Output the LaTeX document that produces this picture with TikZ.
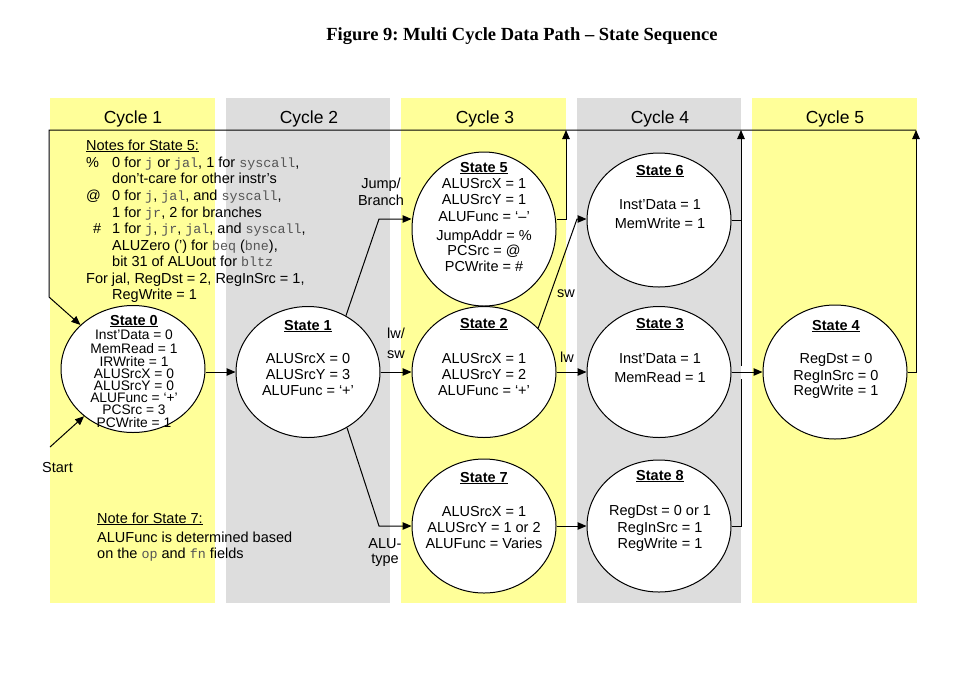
\documentclass[tikz,border=0pt]{standalone}
\usepackage{fontspec}
\setmainfont{Liberation Sans}
\newfontfamily\monof[Scale=0.92]{Liberation Mono}
\newfontfamily\titlef{Liberation Serif}
\usetikzlibrary{arrows.meta,shapes.geometric}
\definecolor{cyel}{HTML}{FFFF99}
\definecolor{cgray}{HTML}{DDDDDD}
\definecolor{monogray}{HTML}{555555}
\newcommand\mytt[1]{{\monof\color{monogray}#1}}
\frenchspacing
\begin{document}
\begin{tikzpicture}[x=1pt,y=-1pt,
 state/.style={ellipse, draw, fill=white, line width=1pt, minimum width=144pt, minimum height=131pt, inner sep=0pt},
 tx/.style={inner sep=0pt, anchor=base, font=\fontsize{14.5}{16}\selectfont},
 txs/.style={inner sep=0pt, anchor=base, font=\fontsize{13.8}{14}\selectfont},
 txl/.style={tx, anchor=base west},
 sttl/.style={inner sep=0pt, anchor=base, font=\fontsize{14.5}{16}\selectfont\bfseries},
 cyc/.style={inner sep=0pt, anchor=base, font=\fontsize{17.5}{20}\selectfont},
 wire/.style={line width=1pt},
 arr/.style={wire, -{Triangle[length=9pt,width=7.5pt]}}]
\useasboundingbox (0,0) rectangle (973,694);
\fill[white] (0,0) rectangle (973,694);
% bands
\fill[cyel] (50,98) rectangle (215,603);
\fill[cgray] (226,98) rectangle (390,603);
\fill[cyel] (401,98) rectangle (566,603);
\fill[cgray] (577,98) rectangle (741,603);
\fill[cyel] (752,98) rectangle (917,603);
% title
\node[inner sep=0pt, anchor=base, font=\titlef\bfseries\fontsize{18.5}{22}\selectfont] (title) at (522,40) {Figure 9: Multi Cycle Data Path – State Sequence};
% cycle labels
\node[cyc] (c1) at (133,123) {Cycle 1};
\node[cyc] (c2) at (309,123) {Cycle 2};
\node[cyc] (c3) at (485,123) {Cycle 3};
\node[cyc] (c4) at (660,123) {Cycle 4};
\node[cyc] (c5) at (835,123) {Cycle 5};
% states
\node[state, minimum height=127pt] (s0) at (133,369) {};
\node[state] (s1) at (308,372) {};
\node[state] (s2) at (484,372) {};
\node[state, minimum height=154pt] (s5) at (484,229) {};
\node[state, minimum height=134pt] (s7) at (484,526) {};
\node[state, minimum height=134pt] (s6) at (659,220) {};
\node[state] (s3) at (659,372) {};
\node[state, minimum height=132pt] (s8) at (659,526) {};
\node[state, minimum height=134pt] (s4) at (835,372) {};
% coordinates
\coordinate (j15) at (379,219);
\coordinate (j17) at (379,526);
\coordinate (j26) at (577,219);
\coordinate (up5a) at (566,219);
\coordinate (up5) at (566,130);
\coordinate (r6) at (741,220);
\coordinate (r8) at (741,526);
\coordinate (gapb) at (741,379);
\coordinate (gapt) at (741,366);
\coordinate (up4) at (741,130);
\coordinate (r4) at (916,372);
\coordinate (up45) at (916,130);
\coordinate (tl) at (49,130);
\coordinate (tld) at (49,297);
\coordinate (st) at (50,447);
% connectors
\draw[arr] (up45) -- (tl) -- (tld) -- (s0.140);
\draw[arr] (st) -- (s0.224);
\draw[arr] (s1.west -| s0.east) -- (s1.west);
\draw[arr] (s1.56) -- (j15) -- (j15 -| s5.west);
\draw[arr] (s1.east) -- (s2.west);
\draw[arr] (s1.-55) -- (j17) -- (j17 -| s7.west);
\draw[arr] (j15 -| s5.east) -- (up5a) -- (up5);
\draw[arr] (s2.39) -- (j26) -- (j26 -| s6.west);
\draw[arr] (s2.east) -- (s3.west);
\draw[arr] (s7.east) -- (s8.west);
\draw[wire] (s6.east) -- (r6);
\draw[wire] (s8.east) -- (r8) -- (gapb);
\draw[arr] (gapt) -- (up4);
\draw[arr] (s3.east) -- (s4.west);
\draw[arr] (s4.east) -- (r4) -- (up45);
% state 0 text
\node[sttl] (t0a) at (134,325) {\underline{State 0}};
\node[txs] (t0b) at (134,339) {Inst’Data = 0};
\node[txs] (t0c) at (134,353) {MemRead = 1};
\node[txs] (t0d) at (134,366) {IRWrite = 1};
\node[txs] (t0e) at (134,378) {ALUSrcX = 0};
\node[txs] (t0f) at (134,390) {ALUSrcY = 0};
\node[txs] (t0g) at (134,402) {ALUFunc = ‘+’};
\node[txs] (t0h) at (134,414) {PCSrc = 3};
\node[txs] (t0i) at (134,427) {PCWrite = 1};
% state 1
\node[sttl] (t1a) at (308,330) {\underline{State 1}};
\node[tx] (t1b) at (308,363) {ALUSrcX = 0};
\node[tx] (t1c) at (308,379) {ALUSrcY = 3};
\node[tx] (t1d) at (308,395) {ALUFunc = ‘+’};
% state 2
\node[sttl] (t2a) at (484,328) {\underline{State 2}};
\node[tx] (t2b) at (484,363) {ALUSrcX = 1};
\node[tx] (t2c) at (484,379) {ALUSrcY = 2};
\node[tx] (t2d) at (484,395) {ALUFunc = ‘+’};
% state 5
\node[sttl] (t5a) at (484,172) {\underline{State 5}};
\node[tx] (t5b) at (484,188) {ALUSrcX = 1};
\node[tx] (t5c) at (484,204) {ALUSrcY = 1};
\node[tx] (t5d) at (484,221) {ALUFunc = ‘–’};
\node[tx] (t5e) at (484,240) {JumpAddr = \%};
\node[tx] (t5f) at (484,255) {PCSrc = @};
\node[tx] (t5g) at (484,271) {PCWrite = \#};
% state 7
\node[sttl] (t7a) at (484,482) {\underline{State 7}};
\node[tx] (t7b) at (484,516) {ALUSrcX = 1};
\node[tx] (t7c) at (484,532) {ALUSrcY = 1 or 2};
\node[tx] (t7d) at (484,548) {ALUFunc = Varies};
% state 6
\node[sttl] (t6a) at (660,175) {\underline{State 6}};
\node[tx] (t6b) at (660,209) {Inst’Data = 1};
\node[tx] (t6c) at (660,228) {MemWrite = 1};
% state 3
\node[sttl] (t3a) at (660,328) {\underline{State 3}};
\node[tx] (t3b) at (660,363) {Inst’Data = 1};
\node[tx] (t3c) at (660,382) {MemRead = 1};
% state 8
\node[sttl] (t8a) at (660,480) {\underline{State 8}};
\node[tx] (t8b) at (660,515) {RegDst = 0 or 1};
\node[tx] (t8c) at (660,532) {RegInSrc = 1};
\node[tx] (t8d) at (660,548) {RegWrite = 1};
% state 4
\node[sttl] (t4a) at (836,330) {\underline{State 4}};
\node[tx] (t4b) at (836,363) {RegDst = 0};
\node[tx] (t4c) at (836,380) {RegInSrc = 0};
\node[tx] (t4d) at (836,395) {RegWrite = 1};
% connector labels
\node[tx] (lj1) at (381,188) {Jump/};
\node[tx] (lj2) at (381,205) {Branch};
\node[txl] (llw1) at (387,338) {lw/};
\node[txl] (llw2) at (387,358) {sw};
\node[txl] (llw) at (560,362) {lw};
\node[txl] (lsw) at (557,297) {sw};
\node[tx] (lalu1) at (385,548) {ALU-};
\node[tx] (lalu2) at (385,563) {type};
\node[txl] (lstart) at (42,472) {Start};
% notes for state 5
\node[txl] (n1) at (86,150) {\underline{Notes for State 5:}};
\node[txl] (n2a) at (86,167) {\%};
\node[txl] (n2) at (112,167) {0 for \mytt{j} or \mytt{jal}, 1 for \mytt{syscall},};
\node[txl] (n3) at (112,183) {don’t-care for other instr’s};
\node[txl] (n4a) at (86,200) {@};
\node[txl] (n4) at (112,200) {0 for \mytt{j}, \mytt{jal}, and \mytt{syscall},};
\node[txl] (n5) at (112,217) {1 for \mytt{jr}, 2 for branches};
\node[txl] (n6a) at (93,233) {\#};
\node[txl] (n6) at (112,233) {1 for \mytt{j}, \mytt{jr}, \mytt{jal}, and \mytt{syscall},};
\node[txl] (n7) at (112,250) {ALUZero (’) for \mytt{beq} (\mytt{bne}),};
\node[txl] (n8) at (112,266) {bit 31 of ALUout for \mytt{bltz}};
\node[txl] (n9) at (86,283) {For jal, RegDst = 2, RegInSrc = 1,};
\node[txl] (n10) at (112,299) {RegWrite = 1};
% note for state 7
\node[txl] (m1) at (97,523) {\underline{Note for State 7:}};
\node[txl] (m2) at (97,542) {ALUFunc is determined based};
\node[txl] (m3) at (97,558) {on the \mytt{op} and \mytt{fn} fields};
\end{tikzpicture}
\end{document}
